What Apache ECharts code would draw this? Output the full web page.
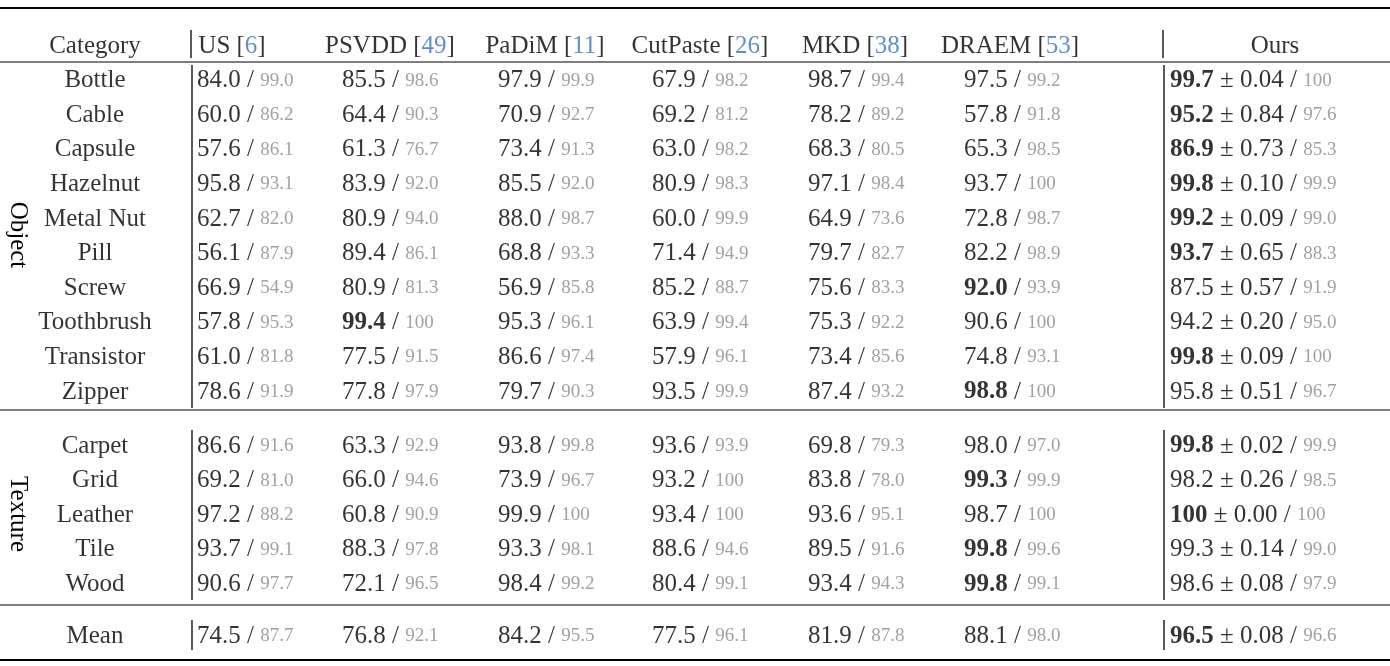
<!DOCTYPE html>
<html><head><meta charset="utf-8">
<script src="https://cdn.jsdelivr.net/npm/echarts@6/dist/echarts.min.js"></script>
<style>html,body{margin:0;background:#fff}#c{width:1390px;height:666px}</style>
</head><body><div id="c"></div>
<script>
var categories = ['Bottle','Cable','Capsule','Hazelnut','Metal Nut','Pill','Screw','Toothbrush','Transistor','Zipper',
  'Carpet','Grid','Leather','Tile','Wood','Mean'];
var methods = ['US','PSVDD','PaDiM','CutPaste','MKD','DRAEM','Ours'];
var cites = ['6','49','11','26','38','53',''];
// detection (main) values per method, per row
var det = [
  ['84.0','60.0','57.6','95.8','62.7','56.1','66.9','57.8','61.0','78.6','86.6','69.2','97.2','93.7','90.6','74.5'],
  ['85.5','64.4','61.3','83.9','80.9','89.4','80.9','99.4','77.5','77.8','63.3','66.0','60.8','88.3','72.1','76.8'],
  ['97.9','70.9','73.4','85.5','88.0','68.8','56.9','95.3','86.6','79.7','93.8','73.9','99.9','93.3','98.4','84.2'],
  ['67.9','69.2','63.0','80.9','60.0','71.4','85.2','63.9','57.9','93.5','93.6','93.2','93.4','88.6','80.4','77.5'],
  ['98.7','78.2','68.3','97.1','64.9','79.7','75.6','75.3','73.4','87.4','69.8','83.8','93.6','89.5','93.4','81.9'],
  ['97.5','57.8','65.3','93.7','72.8','82.2','92.0','90.6','74.8','98.8','98.0','99.3','98.7','99.8','99.8','88.1'],
  ['99.7','95.2','86.9','99.8','99.2','93.7','87.5','94.2','99.8','95.8','99.8','98.2','100','99.3','98.6','96.5']
];
// localization (small grey) values
var loc = [
  ['99.0','86.2','86.1','93.1','82.0','87.9','54.9','95.3','81.8','91.9','91.6','81.0','88.2','99.1','97.7','87.7'],
  ['98.6','90.3','76.7','92.0','94.0','86.1','81.3','100','91.5','97.9','92.9','94.6','90.9','97.8','96.5','92.1'],
  ['99.9','92.7','91.3','92.0','98.7','93.3','85.8','96.1','97.4','90.3','99.8','96.7','100','98.1','99.2','95.5'],
  ['98.2','81.2','98.2','98.3','99.9','94.9','88.7','99.4','96.1','99.9','93.9','100','100','94.6','99.1','96.1'],
  ['99.4','89.2','80.5','98.4','73.6','82.7','83.3','92.2','85.6','93.2','79.3','78.0','95.1','91.6','94.3','87.8'],
  ['99.2','91.8','98.5','100','98.7','98.9','93.9','100','93.1','100','97.0','99.9','100','99.6','99.1','98.0'],
  ['100','97.6','85.3','99.9','99.0','88.3','91.9','95.0','100','96.7','99.9','98.5','100','99.0','97.9','96.6']
];
var oursStd = ['0.04','0.84','0.73','0.10','0.09','0.65','0.57','0.20','0.09','0.51','0.02','0.26','0.00','0.14','0.08','0.08'];
// index of bold method per row
var boldIdx = [6,6,6,6,6,6,5,1,6,5,6,5,6,5,5,6];

var W = 1390, rowH = 34.6, top0 = 46;
var colX = [197, 342, 498, 652, 808, 964, 1170];
var headX = [232, 390, 545, 700, 855, 1010, 1275];
var catX = 95;
function rowUnit(i) { return 1 + i + (i >= 10 ? 0.56 : 0) + (i >= 15 ? 0.5 : 0); }
var maxU = rowUnit(15);

var cellData = [], catData = [], headData = [];
categories.forEach(function (c, i) {
  catData.push({ value: [catX, rowUnit(i)], name: c });
  methods.forEach(function (m, j) {
    var b = boldIdx[i] === j;
    var t = '{' + (b ? 'b' : 'n') + '|' + det[j][i] + '}';
    if (j === 6) t += '{n| ± ' + oursStd[i] + ' / }';
    else t += '{n| / }';
    t += '{s|' + loc[j][i] + '}';
    cellData.push({ value: [colX[j], rowUnit(i)], name: t });
  });
});
headData.push({ value: [catX, 0], name: '{n|Category}' });
methods.forEach(function (m, j) {
  headData.push({ value: [headX[j], 0], name: '{n|' + m + '}' + (cites[j] ? '{n| [}{c|' + cites[j] + '}{n|]}' : '') });
});

var font = 'Liberation Serif';
var rich = {
  n: { fontFamily: font, fontSize: 25, color: '#000' },
  b: { fontFamily: font, fontSize: 25, color: '#000', fontWeight: 'bold' },
  s: { fontFamily: font, fontSize: 19, color: '#8a8a8a' },
  c: { fontFamily: font, fontSize: 25, color: '#3b74b8' }
};
var lab = { show: true, color: '#000', textBorderWidth: 0, rich: rich, formatter: function (p) { return p.name; } };

function hline(y, w) { return { type: 'line', shape: { x1: 0, y1: y, x2: W, y2: y }, style: { stroke: '#000', lineWidth: w } }; }
function vline(x, y1, y2) { return { type: 'line', shape: { x1: x, y1: y1, x2: x, y2: y2 }, style: { stroke: '#000', lineWidth: 1.3 } }; }
var graphics = [hline(8, 2), hline(62, 1.2), hline(410, 1.2), hline(605, 1.2), hline(660, 2),
  vline(191, 30, 58), vline(1163, 30, 58),
  vline(192, 65, 408), vline(1164, 65, 408),
  vline(192, 430, 600), vline(1164, 430, 600),
  vline(192, 620, 650), vline(1164, 620, 650)];
[['Object', 235], ['Texture', 514]].forEach(function (s) {
  graphics.push({ type: 'text', x: 18, y: s[1], rotation: -Math.PI / 2,
    style: { text: s[0], font: '25px "' + font + '"', fill: '#000', textAlign: 'center', textVerticalAlign: 'middle' } });
});

var chart = echarts.init(document.getElementById('c'));
chart.setOption({
  animation: false,
  grid: { left: 0, width: W, top: top0, height: maxU * rowH },
  xAxis: { type: 'value', min: 0, max: W, show: false },
  yAxis: { type: 'value', min: 0, max: maxU, inverse: true, show: false },
  graphic: graphics,
  series: [
    { type: 'scatter', symbolSize: 0, data: cellData,
      label: Object.assign({ position: 'right', distance: 0 }, lab) },
    { type: 'scatter', symbolSize: 0, data: catData,
      label: Object.assign({}, lab, { position: 'inside', formatter: function (p) { return '{n|' + p.name + '}'; } }) },
    { type: 'scatter', symbolSize: 0, data: headData,
      label: Object.assign({ position: 'inside' }, lab) }
  ]
});
</script></body></html>
